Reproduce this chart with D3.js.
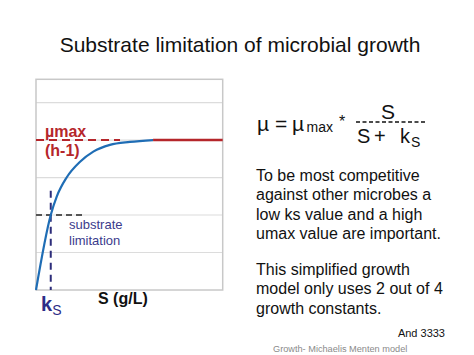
<!DOCTYPE html>
<html><head><meta charset="utf-8">
<script src="https://cdn.jsdelivr.net/npm/d3@7"></script>
<style>
html,body{margin:0;padding:0;background:#fff;}
svg{display:block;font-family:"Liberation Sans",Arial,Helvetica,sans-serif;}
</style></head>
<body>
<svg id="c" width="474" height="355"></svg>
<script>
// Data
const sValues  = [0, 0.79, 1.11, 1.64, 2.36, 3.07, 3.96, 5.03, 6.27];
const muValues = [0, 2.0, 2.49, 3.0, 3.42, 3.69, 3.87, 3.95, 4.0];
const muMax = 4;
const ks = 0.79;
const sMax = 10;
const gridTicks = [1, 2, 3, 4, 5];
const paragraph1 = ["To be most competitive", "against other microbes a", "low ks value and a high", "umax value are important."];
const paragraph2 = ["This simplified growth", "model only uses 2 out of 4", "growth constants."];

const svg = d3.select("#c");
const x = d3.scaleLinear().domain([0, sMax]).range([36, 222.7]);
const y = d3.scaleLinear().domain([0, 5.62]).range([290, 79.3]);

// Title
svg.append("text").attr("x", 240).attr("y", 51.5).attr("text-anchor", "middle")
  .attr("font-size", 21).attr("fill", "#111").text("Substrate limitation of microbial growth");

// gridlines
svg.append("g").selectAll("line").data(gridTicks).join("line")
  .attr("x1", x(0)).attr("x2", x(sMax))
  .attr("y1", d => y(d)).attr("y2", d => y(d))
  .attr("stroke", "#dcdcdc").attr("stroke-width", 1.2);

// box
svg.append("rect").attr("x", x(0)).attr("y", y(5.62))
  .attr("width", x(sMax) - x(0)).attr("height", y(0) - y(5.62))
  .attr("fill", "none").attr("stroke", "#c8c8c8").attr("stroke-width", 1.5);

// dashed umax line
svg.append("line").attr("x1", x(0)).attr("x2", x(4.5))
  .attr("y1", y(muMax)).attr("y2", y(muMax))
  .attr("stroke", "#b5262b").attr("stroke-width", 2).attr("stroke-dasharray", "8,5");
// solid umax line
svg.append("line").attr("x1", x(sValues[sValues.length - 1])).attr("x2", x(sMax))
  .attr("y1", y(muMax)).attr("y2", y(muMax))
  .attr("stroke", "#b5262b").attr("stroke-width", 2.5);

// half-umax dashed horizontal
svg.append("line").attr("x1", x(0)).attr("x2", x(2.5))
  .attr("y1", y(muMax / 2)).attr("y2", y(muMax / 2))
  .attr("stroke", "#555").attr("stroke-width", 2).attr("stroke-dasharray", "6,4");
// ks vertical dashed
svg.append("line").attr("x1", x(ks)).attr("x2", x(ks))
  .attr("y1", y(2.65)).attr("y2", y(0))
  .attr("stroke", "#2d2d7a").attr("stroke-width", 2).attr("stroke-dasharray", "7,5");

// curve
const line = d3.line().x((d, i) => x(sValues[i])).y(d => y(d)).curve(d3.curveMonotoneX);
svg.append("path").attr("d", line(muValues)).attr("fill", "none")
  .attr("stroke", "#1f6db5").attr("stroke-width", 2.2);

// labels
svg.append("text").attr("x", 45).attr("y", 137).attr("font-size", 16).attr("font-weight", "bold")
  .attr("fill", "#b5262b").text("µmax");
svg.append("text").attr("x", 45).attr("y", 156).attr("font-size", 16).attr("font-weight", "bold")
  .attr("fill", "#b5262b").text("(h-1)");
svg.append("text").attr("x", 69).attr("y", 229).attr("font-size", 13)
  .attr("fill", "#3b3b8c").text("substrate");
svg.append("text").attr("x", 69).attr("y", 245).attr("font-size", 13)
  .attr("fill", "#3b3b8c").text("limitation");
const ksT = svg.append("text").attr("x", 41).attr("y", 311).attr("font-size", 20).attr("font-weight", "bold").attr("fill", "#2d2d86");
ksT.append("tspan").text("k");
ksT.append("tspan").attr("font-size", 14).attr("dy", 4).attr("font-weight", "normal").text("S");
svg.append("text").attr("x", 98).attr("y", 304).attr("font-size", 16).attr("font-weight", "bold")
  .attr("fill", "#111").text("S (g/L)");

// Equation
const eqFont = 21;
svg.append("text").attr("x", 257).attr("y", 131).attr("font-size", eqFont).attr("fill", "#111").text("µ");
svg.append("text").attr("x", 275).attr("y", 131).attr("font-size", eqFont).attr("fill", "#111").text("=");
svg.append("text").attr("x", 292).attr("y", 131).attr("font-size", eqFont).attr("fill", "#111").text("µ");
svg.append("text").attr("x", 306.5).attr("y", 132).attr("font-size", 14).attr("fill", "#111").text("max");
svg.append("text").attr("x", 339).attr("y", 127).attr("font-size", 16).attr("fill", "#111").text("*");
svg.append("text").attr("x", 388).attr("y", 119).attr("text-anchor", "middle").attr("font-size", 21).attr("fill", "#111").text("S");
svg.append("line").attr("x1", 356).attr("x2", 425).attr("y1", 122).attr("y2", 122)
  .attr("stroke", "#111").attr("stroke-width", 1.5).attr("stroke-dasharray", "4,2.5");
svg.append("text").attr("x", 357).attr("y", 143).attr("font-size", 20).attr("fill", "#111").text("S");
svg.append("text").attr("x", 374).attr("y", 143).attr("font-size", 20).attr("fill", "#111").text("+");
svg.append("text").attr("x", 400).attr("y", 143).attr("font-size", 20).attr("fill", "#111").text("k");
svg.append("text").attr("x", 411).attr("y", 147).attr("font-size", 14).attr("fill", "#111").text("S");

// Paragraphs
svg.append("g").selectAll("text").data(paragraph1).join("text")
  .attr("x", 256).attr("y", (d, i) => 181 + i * 19.3).attr("font-size", 16).attr("fill", "#111").text(d => d);
svg.append("g").selectAll("text").data(paragraph2).join("text")
  .attr("x", 256).attr("y", (d, i) => 275 + i * 19.3).attr("font-size", 16).attr("fill", "#111").text(d => d);

svg.append("text").attr("x", 445).attr("y", 336.5).attr("text-anchor", "end").attr("font-size", 11).attr("fill", "#111").text("And 3333");
svg.append("text").attr("x", 273).attr("y", 351.5).attr("font-size", 9.2).attr("fill", "#8a8a8a").text("Growth- Michaelis Menten model");
</script>
</body></html>
